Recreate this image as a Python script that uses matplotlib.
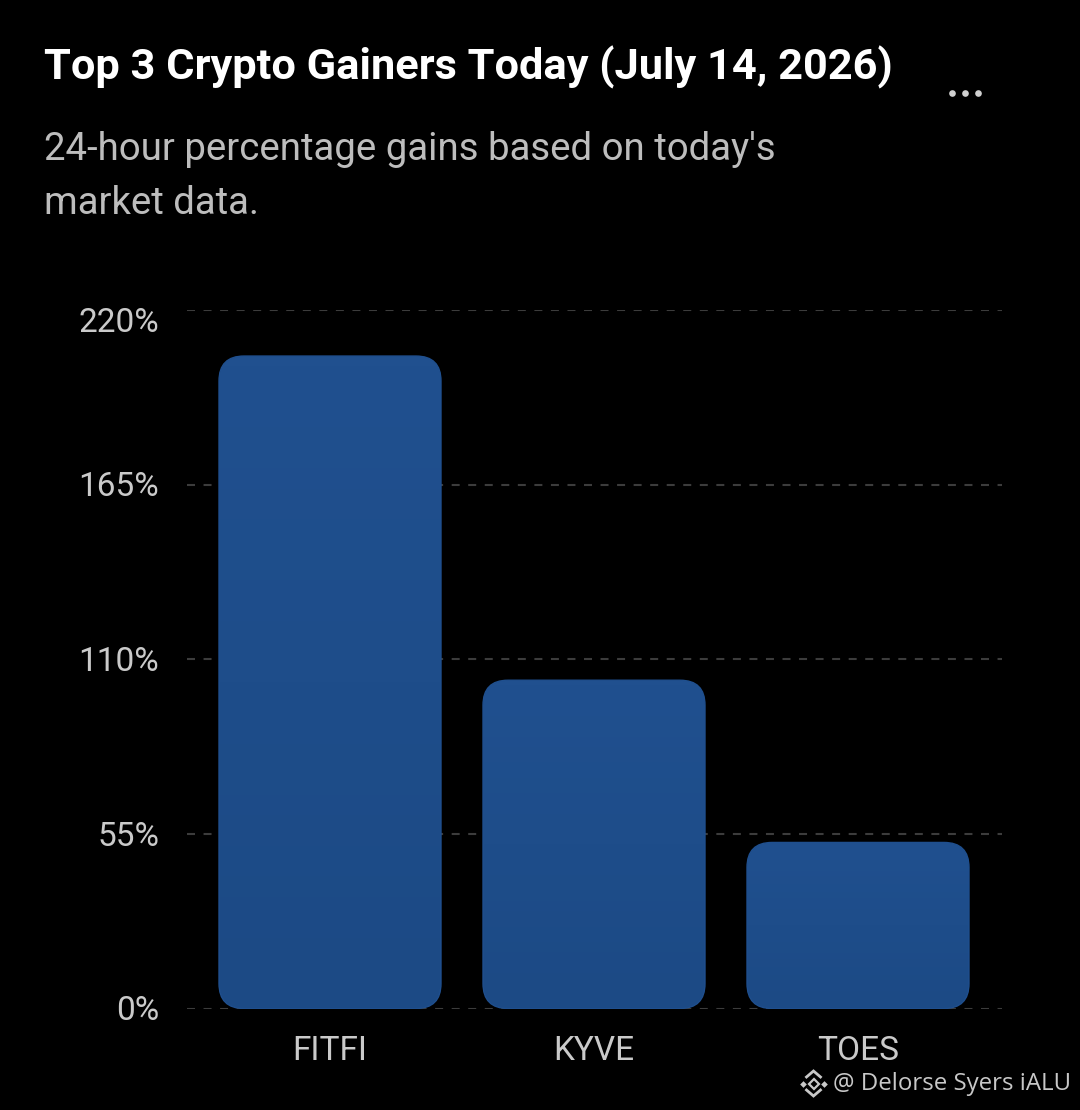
import numpy as np
import matplotlib
matplotlib.use('Agg')
import matplotlib.pyplot as plt
from matplotlib.colors import LinearSegmentedColormap
from matplotlib.patches import FancyBboxPatch
from matplotlib.transforms import ScaledTranslation

tokens = ['FITFI', 'KYVE', 'TOES']
gains = [205.5, 103.4, 52.3]
y_ticks = [0, 55, 110, 165, 220]
y_labels = ['0%', '55%', '110%', '165%', '220%']

W, H = 1080, 1110
plt.rcParams['font.family'] = ['Roboto', 'DejaVu Sans']

fig = plt.figure(figsize=(W / 100, H / 100), dpi=100, facecolor='black')
ax = fig.add_axes([187 / W, 1 - 1008.5 / H, (1002 - 187) / W, (1008.5 - 310) / H], facecolor='black')
ax.set_xlim(-143 / 264, 672 / 264)
ax.set_ylim(0, 220)

ax.set_yticks(y_ticks)
ax.set_yticklabels(y_labels, color='#cacaca', fontsize=24)
ax.set_xticks(range(len(tokens)))
ax.set_xticklabels(tokens, color='#cacaca', fontsize=24)
ax.tick_params(axis='both', length=0)
ax.tick_params(axis='y', pad=20)
ax.tick_params(axis='x', pad=19)
for lbl, t in zip(ax.get_yticklabels(), y_ticks):
    lbl.set_verticalalignment('center')
    # the top label sits below its gridline in the original
    drop = 9.5 if t == 220 else 2
    lbl.set_transform(lbl.get_transform() + ScaledTranslation(0, -drop / 72, fig.dpi_scale_trans))
for s in ax.spines.values():
    s.set_visible(False)
ax.grid(axis='y', color='#3c3c3c', lw=1.5, ls=(0, (3.84, 4.1)), zorder=0)
ax.set_axisbelow(True)

bar_w = 222 / 264
radius = 25 / 264
aspect = (220 / 698) / (1 / 264)
grad = LinearSegmentedColormap.from_list('bar', ['#1c4a85', '#20508f'])
for i, g in enumerate(gains):
    box = FancyBboxPatch((i - bar_w / 2, 0), bar_w, g,
                         boxstyle=f'round,pad=0,rounding_size={radius}',
                         mutation_aspect=aspect, fc='none', ec='#1f4f8e', lw=1, zorder=3)
    ax.add_patch(box)
    img = ax.imshow(np.linspace(1, 0, 64).reshape(-1, 1), cmap=grad, aspect='auto',
                    extent=(i - bar_w / 2, i + bar_w / 2, 0, g), zorder=2)
    img.set_clip_path(box)
ax.set_xlim(-143 / 264, 672 / 264)
ax.set_ylim(0, 220)

fig.text(44 / W, 1 - 67 / H, 'Top 3 Crypto Gainers Today (July 14, 2026)', color='white',
         fontsize=31.2, fontweight='bold', va='center', ha='left')
fig.text(44 / W, 1 - 149 / H, "24-hour percentage gains based on today's", color='#bdbdbd',
         fontsize=27.6, va='center', ha='left')
fig.text(44 / W, 1 - 204 / H, 'market data.', color='#bdbdbd',
         fontsize=27.6, va='center', ha='left')

# overlay in pixel coordinates for the menu dots and the watermark logo
over = fig.add_axes([0, 0, 1, 1], facecolor='none')
over.set_xlim(0, W)
over.set_ylim(H, 0)
over.axis('off')

over.plot([952, 965, 978], [92.5] * 3, 'o', ms=4.8, color='#d0d0d0', mew=0)

logo = '#c8c8c8'
cx, cy = 813.5, 1083.5
over.plot([cx - 7, cx, cx + 7], [cy - 6.5, cy - 12.5, cy - 6.5], color=logo, lw=2, solid_joinstyle='miter')
over.plot([cx - 7, cx, cx + 7], [cy + 6.5, cy + 12.5, cy + 6.5], color=logo, lw=2, solid_joinstyle='miter')
over.plot([cx - 10.5, cx + 10.5], [cy, cy], 'D', ms=3.4, color=logo, mew=0)
over.plot([cx], [cy], 'D', ms=5.5, mfc='none', mec=logo, mew=1.6)

fig.text(833 / W, 1 - 1084 / H, '@ Delorse Syers iALU', color='#c8c8c8', fontsize=17.3,
         family=['Open Sans', 'DejaVu Sans'], va='center', ha='left')

fig.savefig('out.png', dpi=100, facecolor='black')
